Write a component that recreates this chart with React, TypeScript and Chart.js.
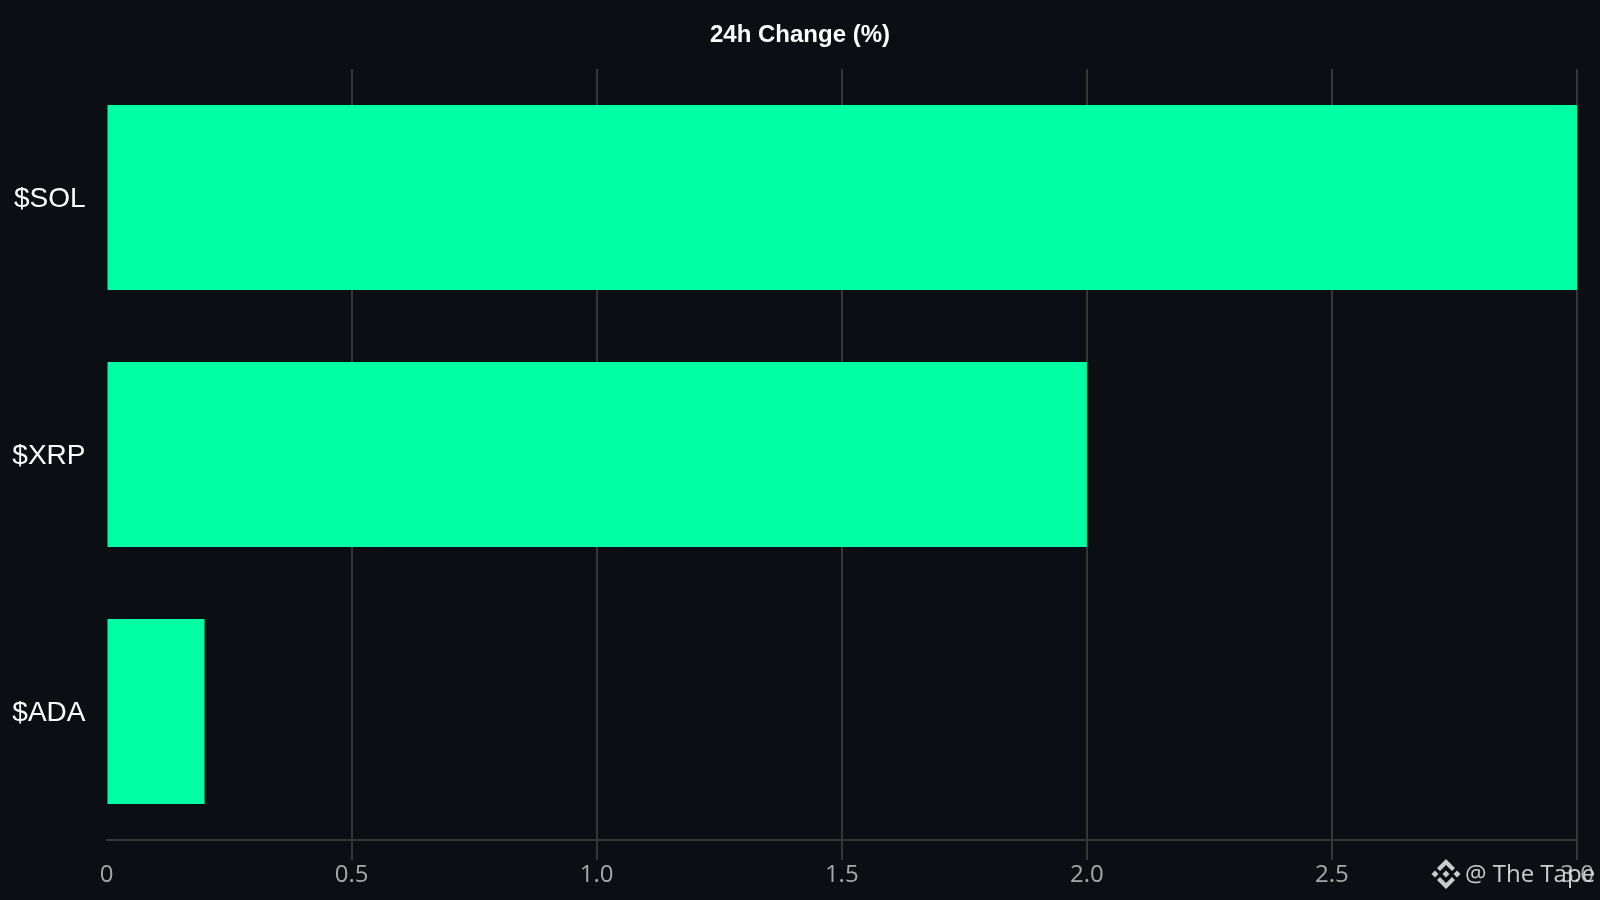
import React, { useEffect, useRef } from "react";
import { Chart, registerables } from "chart.js";

Chart.register(...registerables);

const categories = ["$SOL", "$XRP", "$ADA"];
const changeValues = [3.0, 2.0, 0.2];
const xTicks = [0, 0.5, 1.0, 1.5, 2.0, 2.5, 3.0];
const titleText = "24h Change (%)";
const watermarkText = "@ The Tape";

const BG = "#0b0e12";
const BAR = "#00ffa3";
const GRID = "#363636";

const overlayPlugin = {
  id: "overlay",
  afterDraw(chart: any) {
    const ctx = chart.ctx;
    ctx.save();
    // title
    ctx.fillStyle = "#ffffff";
    ctx.font = "bold 24px 'Liberation Sans', Arial, sans-serif";
    ctx.textAlign = "center";
    ctx.textBaseline = "middle";
    ctx.fillText(titleText, 800, 35);

    // watermark
    const cx = 1446;
    const cy = 874;
    ctx.fillStyle = "rgba(225,225,225,0.9)";
    const diamond = (x: number, y: number, r: number) => {
      ctx.beginPath();
      ctx.moveTo(x, y - r);
      ctx.lineTo(x + r, y);
      ctx.lineTo(x, y + r);
      ctx.lineTo(x - r, y);
      ctx.closePath();
      ctx.fill();
    };
    diamond(cx, cy, 3.5);
    diamond(cx - 11, cy, 3.5);
    diamond(cx + 11, cy, 3.5);
    ctx.beginPath();
    ctx.moveTo(cx, cy - 15);
    ctx.lineTo(cx + 9, cy - 6);
    ctx.lineTo(cx + 6, cy - 3);
    ctx.lineTo(cx, cy - 9);
    ctx.lineTo(cx - 6, cy - 3);
    ctx.lineTo(cx - 9, cy - 6);
    ctx.closePath();
    ctx.fill();
    ctx.beginPath();
    ctx.moveTo(cx, cy + 15);
    ctx.lineTo(cx + 9, cy + 6);
    ctx.lineTo(cx + 6, cy + 3);
    ctx.lineTo(cx, cy + 9);
    ctx.lineTo(cx - 6, cy + 3);
    ctx.lineTo(cx - 9, cy + 6);
    ctx.closePath();
    ctx.fill();
    ctx.font = "24px 'Open Sans', sans-serif";
    ctx.textBaseline = "middle";
    ctx.textAlign = "left";
    ctx.fillText(watermarkText, 1465, cy + 1);
    ctx.restore();
  },
};

export default function App() {
  const canvasRef = useRef<HTMLCanvasElement | null>(null);

  useEffect(() => {
    document.body.style.margin = "0";
    document.body.style.background = BG;
    const canvas = canvasRef.current;
    if (!canvas) return;
    const chart = new Chart(canvas, {
      type: "bar",
      data: {
        labels: categories,
        datasets: [
          {
            label: titleText,
            data: changeValues,
            backgroundColor: BAR,
            borderWidth: 0,
            categoryPercentage: 0.8,
            barPercentage: 0.9,
          },
        ],
      },
      options: {
        indexAxis: "y",
        animation: false,
        responsive: false,
        maintainAspectRatio: false,
        layout: { padding: { left: 0, right: 23, top: 69, bottom: 0 } },
        plugins: {
          legend: { display: false },
          tooltip: { enabled: false },
          title: { display: false },
        },
        scales: {
          x: {
            type: "linear",
            min: 0,
            max: 3,
            afterBuildTicks: (scale: any) => {
              scale.ticks = xTicks.map((v) => ({ value: v }));
            },
            afterFit: (scale: any) => {
              scale.height = 60;
            },
            grid: {
              color: (c: any) => (c.tick && c.tick.value === 0 ? "rgba(0,0,0,0)" : GRID),
              lineWidth: 2,
              drawTicks: true,
              tickLength: 20,
              tickColor: (c: any) => (c.tick && c.tick.value === 0 ? "rgba(0,0,0,0)" : GRID),
            },
            border: { display: true, color: GRID, width: 2 },
            ticks: {
              color: "#a8a8a8",
              padding: 1,
              font: { family: "'Open Sans', sans-serif", size: 24 },
              callback: (v: any) => (v === 0 ? "0" : Number(v).toFixed(1)),
            },
          },
          y: {
            afterFit: (scale: any) => {
              scale.width = 106.5;
            },
            grid: { display: false, drawTicks: false },
            border: { display: false },
            ticks: {
              color: "#ffffff",
              padding: 21,
              labelOffset: 2,
              font: { family: "'Liberation Sans', Arial, sans-serif", size: 28 },
            },
          },
        },
      },
      plugins: [overlayPlugin],
    });
    return () => chart.destroy();
  }, []);

  return (
    <div style={{ width: 1600, height: 900, background: BG }}>
      <canvas ref={canvasRef} width={1600} height={900} style={{ display: "block" }} />
    </div>
  );
}
